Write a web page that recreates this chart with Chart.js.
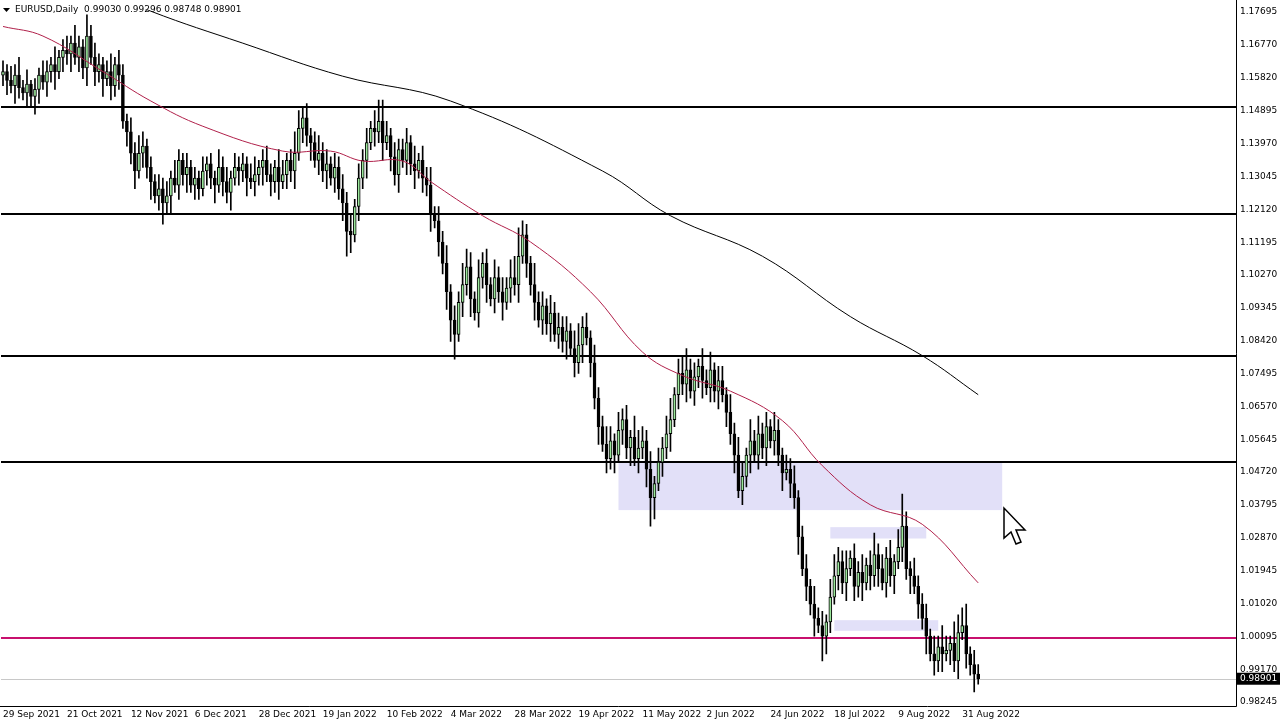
<!DOCTYPE html>
<html>
<head>
<meta charset="utf-8">
<script src="https://cdn.jsdelivr.net/npm/chart.js@4/dist/chart.umd.min.js"></script>
<style>
  html, body { margin: 0; padding: 0; background: #fff; }
  #wrap { width: 1280px; height: 720px; }
</style>
</head>
<body>
<div id="wrap"><canvas id="c" width="1280" height="720"></canvas></div>
<script>
// Data
const SLOTS = 309;
const firstOpen = 1.1590;
const closes = [
  1.1600,1.1575,1.1560,1.1590,1.1555,1.1540,1.1565,1.1530,
  1.1550,1.1590,1.1570,1.1600,1.1620,1.1600,1.1640,1.1660,
  1.1650,1.1680,1.1640,1.1670,1.1610,1.1700,1.1640,1.1600,
  1.1620,1.1580,1.1600,1.1560,1.1620,1.1590,1.1460,1.1430,
  1.1370,1.1320,1.1370,1.1390,1.1330,1.1290,1.1250,1.1270,
  1.1230,1.1250,1.1300,1.1280,1.1350,1.1310,1.1330,1.1280,
  1.1300,1.1270,1.1320,1.1340,1.1300,1.1280,1.1330,1.1290,
  1.1260,1.1300,1.1330,1.1320,1.1340,1.1300,1.1290,1.1310,
  1.1330,1.1350,1.1310,1.1290,1.1330,1.1290,1.1310,1.1350,
  1.1320,1.1370,1.1440,1.1470,1.1420,1.1400,1.1350,1.1370,
  1.1320,1.1340,1.1300,1.1330,1.1270,1.1230,1.1150,1.1140,
  1.1220,1.1300,1.1350,1.1400,1.1440,1.1430,1.1460,1.1400,
  1.1420,1.1360,1.1310,1.1380,1.1350,1.1400,1.1340,1.1320,
  1.1350,1.1300,1.1280,1.1200,1.1180,1.1120,1.1060,1.0980,
  1.0900,1.0860,1.0950,1.1000,1.1050,1.0960,1.0920,1.1020,
  1.1060,1.1000,1.0960,1.1020,1.0980,1.0950,1.0990,1.1020,
  1.1000,1.1080,1.1140,1.1060,1.1000,1.0950,1.0900,1.0940,
  1.0890,1.0920,1.0860,1.0880,1.0840,1.0870,1.0820,1.0780,
  1.0830,1.0880,1.0850,1.0780,1.0680,1.0600,1.0550,1.0510,
  1.0560,1.0520,1.0590,1.0620,1.0540,1.0570,1.0510,1.0540,
  1.0560,1.0480,1.0400,1.0440,1.0500,1.0540,1.0580,1.0620,
  1.0690,1.0750,1.0720,1.0760,1.0700,1.0740,1.0770,1.0730,
  1.0710,1.0760,1.0700,1.0730,1.0690,1.0640,1.0580,1.0520,
  1.0420,1.0460,1.0520,1.0560,1.0520,1.0580,1.0540,1.0600,
  1.0560,1.0590,1.0520,1.0470,1.0480,1.0440,1.0400,1.0290,
  1.0200,1.0150,1.0100,1.0060,1.0040,1.0010,1.0050,1.0120,
  1.0180,1.0220,1.0160,1.0200,1.0230,1.0150,1.0190,1.0160,
  1.0210,1.0180,1.0240,1.0200,1.0160,1.0230,1.0180,1.0220,
  1.0260,1.0320,1.0200,1.0180,1.0150,1.0100,1.0060,1.0010,
  0.9960,0.9940,0.9980,0.9960,0.9970,0.9990,0.9940,1.0020,
  1.0040,0.9960,0.9930,0.9903,0.98901
];
// wick lengths above / below the body, in units of 0.001
const upWicks = ('3243524132 4325234253 2634323524 3243542324 3425324232 4232534243 3245234325 ' +
  '4236534235 3424343524 3425664243 3425243524 3524365425 3425343568 4326342534 3425634253 ' +
  '3542534265 4352435624 5634253524 4253542635 3425324352 3425342564 3524352463 4352594253 ' +
  '3425364265 5624300000').replace(/ /g, '').split('').map(Number);
const downWicks = ('3425324354 2435243524 3524352434 2435243524 6352435243 2435243524 3524352435 ' +
  '2435243524 3524357524 3524352435 2435243524 3567243524 3524352435 2435243524 3524352435 ' +
  '2435243524 3586243524 3524352435 2435243524 3524352435 2435275324 3524352435 2435243524 ' +
  '3524352435 2435300000').replace(/ /g, '').split('').map(Number);

const ma50Idx  = [0, 10, 25, 37, 50, 70, 82, 90, 100, 107, 120, 132, 147, 160, 170, 182, 195, 205, 217, 230, 244];
const ma50Vals = [1.1727,1.1700,1.1600,1.1517,1.1446,1.1376,1.1376,1.1348,1.1348,1.1290,1.1194,1.1120,1.0980,1.0810,1.0744,1.0700,1.0617,1.0490,1.0380,1.0325,1.0160];
const ma200Idx  = [30, 37, 60, 85, 112, 150, 167, 190, 212, 230, 244];
const ma200Vals = [1.1810,1.1770,1.1680,1.1587,1.1517,1.1320,1.1194,1.1080,1.0910,1.0800,1.0690];

const levels = [1.1500, 1.1200, 1.0800, 1.0500];
const parityLevel = 1.0005;
const lastPrice = 0.98901;
const zones = [
  { from: 154, to: 250, lo: 1.0365, hi: 1.0500 },
  { from: 207, to: 231, lo: 1.0285, hi: 1.0317 },
  { from: 208, to: 234, lo: 1.0025, hi: 1.0055 }
];

const yTicks = [1.17695,1.16770,1.15820,1.14895,1.13970,1.13045,1.12120,1.11195,1.10270,1.09345,1.08420,
  1.07495,1.06570,1.05645,1.04720,1.03795,1.02870,1.01945,1.01020,1.00095,0.99170,0.98245];
const dateLabels = ['29 Sep 2021','21 Oct 2021','12 Nov 2021','6 Dec 2021','28 Dec 2021','19 Jan 2022',
  '10 Feb 2022','4 Mar 2022','28 Mar 2022','19 Apr 2022','11 May 2022','2 Jun 2022','24 Jun 2022',
  '18 Jul 2022','9 Aug 2022','31 Aug 2022'];
const LABEL_STEP = 16;

// Build candles
const labels = [];
for (let i = 0; i < SLOTS; i++) labels.push(String(i));
const bodies = [], wicks = [], bodyColors = [];
closes.forEach((c, i) => {
  const o = i === 0 ? firstOpen : closes[i - 1];
  const hi = Math.max(o, c) + (upWicks[i] || 0) * 0.001;
  const lo = Math.min(o, c) - (downWicks[i] || 0) * 0.001;
  let top = c, bot = o;
  if (Math.abs(c - o) < 0.0003) top = o + 0.0003;
  bodies.push([bot, top]);
  wicks.push([lo, hi]);
  bodyColors.push(c >= o ? '#9be79b' : '#000000');
});
const lastIdx = closes.length - 1;
wicks[lastIdx] = [0.98748, 0.99296];

function sparse(idx, vals) {
  const arr = new Array(SLOTS).fill(null);
  idx.forEach((k, j) => arr[k] = vals[j]);
  return arr;
}

const overlayPlugin = {
  id: 'overlay',
  beforeDatasetsDraw(chart) {
    const { ctx, chartArea: a, scales: { x, y } } = chart;
    ctx.save();
    ctx.beginPath();
    ctx.rect(a.left, a.top, a.right - a.left, a.bottom - a.top);
    ctx.clip();
    ctx.fillStyle = '#e2e0f8';
    zones.forEach(z => {
      const x0 = x.getPixelForValue(z.from), x1 = x.getPixelForValue(z.to);
      const y0 = y.getPixelForValue(z.hi), y1 = y.getPixelForValue(z.lo);
      ctx.fillRect(x0, y0, x1 - x0, y1 - y0);
    });
    ctx.strokeStyle = '#000';
    ctx.lineWidth = 2;
    levels.forEach(v => {
      const py = Math.round(y.getPixelForValue(v));
      ctx.beginPath(); ctx.moveTo(0, py); ctx.lineTo(a.right, py); ctx.stroke();
    });
    ctx.strokeStyle = '#c8106e';
    const pp = Math.round(y.getPixelForValue(parityLevel));
    ctx.beginPath(); ctx.moveTo(0, pp); ctx.lineTo(a.right, pp); ctx.stroke();
    ctx.strokeStyle = '#c8c8c8';
    ctx.lineWidth = 1;
    const lp = Math.round(y.getPixelForValue(lastPrice)) + 0.5;
    ctx.beginPath(); ctx.moveTo(0, lp); ctx.lineTo(a.right, lp); ctx.stroke();
    ctx.restore();
  },
  afterDraw(chart) {
    const { ctx, chartArea: a, scales: { y } } = chart;
    ctx.save();
    ctx.strokeStyle = '#000';
    ctx.lineWidth = 1;
    ctx.beginPath();
    ctx.moveTo(a.right + 0.5, 0); ctx.lineTo(a.right + 0.5, a.bottom + 0.5); ctx.lineTo(0, a.bottom + 0.5);
    ctx.stroke();
    // price tag
    const lp = y.getPixelForValue(lastPrice);
    ctx.fillStyle = '#000';
    ctx.fillRect(a.right + 1, lp - 6, 43, 12);
    ctx.fillStyle = '#fff';
    ctx.font = '9px "DejaVu Sans"';
    ctx.textBaseline = 'middle';
    ctx.fillText('0.98901', a.right + 4, lp);
    // header
    ctx.fillStyle = '#000';
    ctx.beginPath(); ctx.moveTo(3, 8); ctx.lineTo(10, 8); ctx.lineTo(6.5, 12); ctx.fill();
    ctx.fillText('EURUSD,Daily  0.99030 0.99296 0.98748 0.98901', 15, 10);
    // mouse cursor
    ctx.beginPath();
    const cx = 1004, cy = 508;
    ctx.moveTo(cx, cy); ctx.lineTo(cx, cy + 30); ctx.lineTo(cx + 7, cy + 24); ctx.lineTo(cx + 12, cy + 36);
    ctx.lineTo(cx + 17, cy + 34); ctx.lineTo(cx + 12, cy + 22); ctx.lineTo(cx + 21, cy + 22); ctx.closePath();
    ctx.fillStyle = '#fff'; ctx.fill(); ctx.strokeStyle = '#000'; ctx.lineWidth = 1.5; ctx.stroke();
    ctx.restore();
  }
};

new Chart(document.getElementById('c'), {
  type: 'bar',
  data: {
    labels,
    datasets: [
      { type: 'line', data: sparse(ma50Idx, ma50Vals), borderColor: '#b0204a', borderWidth: 1,
        pointRadius: 0, tension: 0.4, spanGaps: true, order: 0 },
      { type: 'line', data: sparse(ma200Idx, ma200Vals), borderColor: '#000', borderWidth: 1,
        pointRadius: 0, tension: 0.4, spanGaps: true, order: 0 },
      { data: bodies, backgroundColor: bodyColors, borderColor: '#000', borderWidth: 1,
        barThickness: 3, grouped: false, borderSkipped: false, order: 1 },
      { data: wicks, backgroundColor: '#000', barThickness: 1, grouped: false, order: 2 }
    ]
  },
  options: {
    responsive: false,
    animation: false,
    events: [],
    layout: { padding: 0 },
    plugins: { legend: { display: false }, tooltip: { enabled: false } },
    scales: {
      x: {
        offset: true,
        grid: { display: false, drawTicks: false },
        border: { display: false },
        afterFit(s) { s.height = 14; },
        ticks: {
          autoSkip: false, maxRotation: 0, align: 'start', padding: 3,
          color: '#000', font: { family: 'DejaVu Sans', size: 9 },
          callback: (v, i) => (i % LABEL_STEP === 0 ? (dateLabels[i / LABEL_STEP] || '') : '')
        }
      },
      y: {
        position: 'right',
        min: 0.98133, max: 1.17751,
        grid: { display: false, drawTicks: false },
        border: { display: false },
        afterFit(s) { s.width = 44; },
        afterBuildTicks(s) { s.ticks = yTicks.map(v => ({ value: v })); },
        ticks: {
          padding: 4, color: '#000', font: { family: 'DejaVu Sans', size: 9 },
          callback: v => v.toFixed(5)
        }
      }
    }
  },
  plugins: [overlayPlugin]
});
</script>
</body>
</html>
